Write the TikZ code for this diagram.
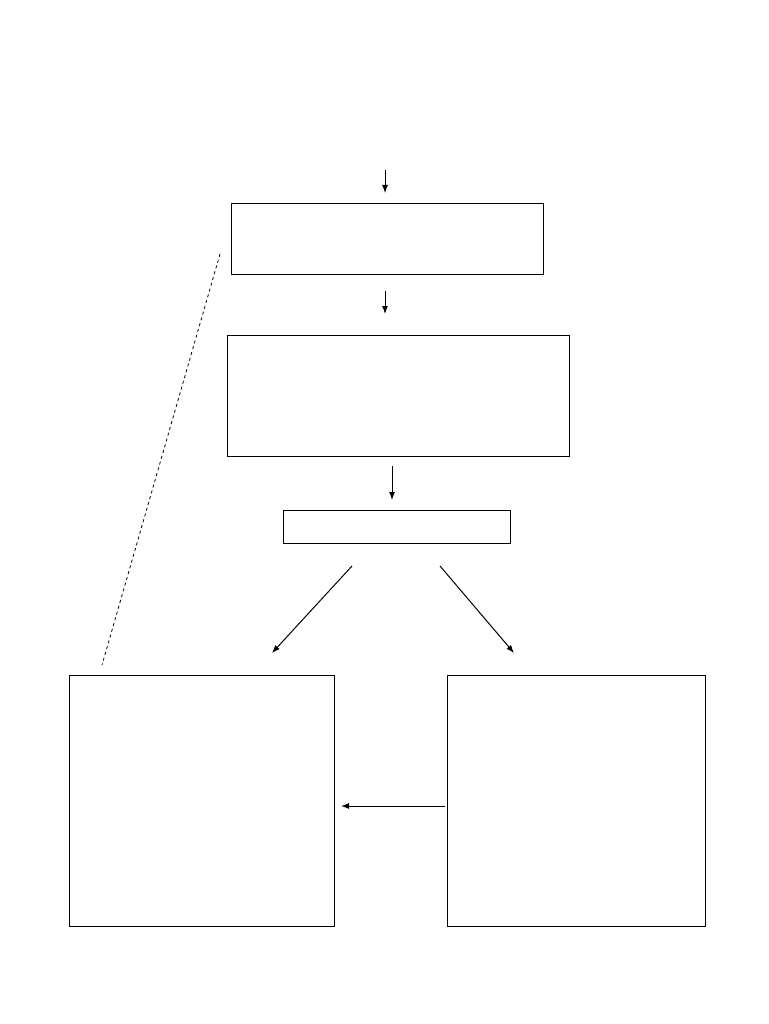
\documentclass[tikz,border=0pt]{standalone}
\usepackage{tikz}
\usetikzlibrary{arrows.meta}

\begin{document}
\begin{tikzpicture}[x=1pt,y=-1pt,
		box/.style={draw,line width=1pt,inner sep=0pt,outer sep=0pt},
		arr/.style={-{Latex[length=8pt,width=6pt]},line width=1pt}]
		\useasboundingbox (0,0) rectangle (768,1024);
		\node[box,minimum width=312pt,minimum height=70pt] (first) at (387,239) {};
		\node[box,minimum width=342pt,minimum height=121pt] (second) at (398,395.5) {};
		\node[box,minimum width=227pt,minimum height=33pt] (third) at (396.5,526.5) {};
		\node[box,minimum width=265pt,minimum height=251pt] (left) at (201.5,800.5) {};
		\node[box,minimum width=258pt,minimum height=251pt] (right) at (576,800.5) {};
		\coordinate (start) at (385,170);
%		arrows down the middle
		\draw[arr,shorten >=11pt] (start) -- ([xshift=-2pt]first.north);
		\draw[arr,shorten <=17pt,shorten >=21pt] ([xshift=-2pt]first.south) -- ([xshift=-13pt]second.north);
		\draw[arr,shorten <=10pt,shorten >=10pt] ([xshift=-6pt]second.south) -- ([xshift=-4.5pt]third.north);
		\draw[arr] ([shift={(-44.5,23)}]third.south) -- ([shift={(70.5,-22)}]left.north);
		\draw[arr] ([shift={(43.5,23)}]third.south) -- ([shift={(-62,-22)}]right.north);
		\draw[arr] ([shift={(-2,5.5)}]right.west) -- ([shift={(7,5.5)}]left.east);
		\draw[dashed,line width=0.8pt] ([shift={(-11,15)}]first.west) -- ([shift={(33,-10)}]left.north west);
	\end{tikzpicture}
\end{document}
